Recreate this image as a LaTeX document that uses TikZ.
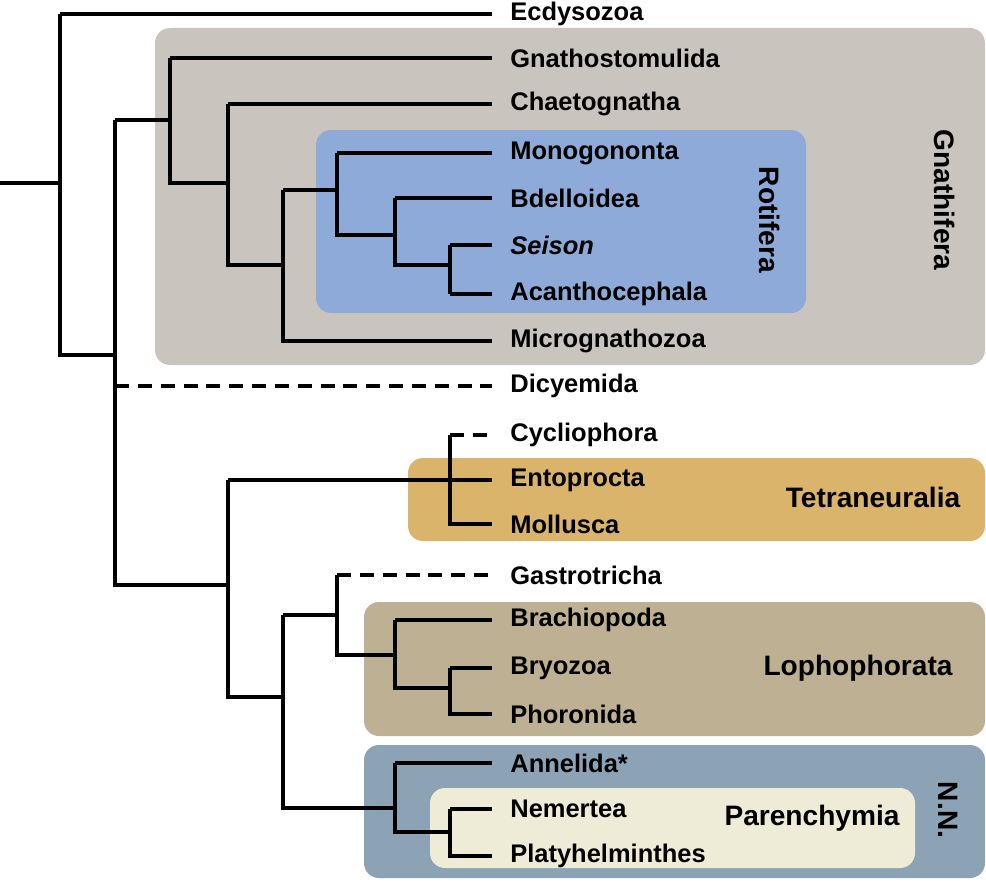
\documentclass[tikz,border=0pt]{standalone}
\usepackage{fontspec}
\setmainfont{Liberation Sans}
\begin{document}
\begin{tikzpicture}[x=0.02cm,y=-0.02cm,
 leaf/.style={anchor=west,font=\bfseries\fontsize{14.5}{16}\selectfont,inner sep=0pt},
 big/.style={font=\bfseries\fontsize{16}{18}\selectfont,inner sep=0pt},
 box/.style={rounded corners=0.3cm,draw=none},
 br/.style={line width=2pt},
 ds/.style={br,dash pattern=on 8pt off 5pt}]
\useasboundingbox (0,0) rectangle (986,882);
\definecolor{cg}{RGB}{201,197,190}
\definecolor{cr}{RGB}{141,170,216}
\definecolor{ct}{RGB}{217,180,106}
\definecolor{cl}{RGB}{190,176,146}
\definecolor{cn}{RGB}{139,163,181}
\definecolor{cp}{RGB}{238,235,214}
\fill[box,cg] (155,28) rectangle (985,365);
\fill[box,cr] (316,130) rectangle (806,313);
\fill[box,ct] (408,458) rectangle (985,541);
\fill[box,cl] (364,602) rectangle (985,736);
\fill[box,cn] (364,745) rectangle (985,878);
\fill[box,cp] (430,788) rectangle (915,868);
\node[big,rotate=-90] (gn) at (945,200) {Gnathifera};
\node[big,rotate=-90] (ro) at (770,220) {Rotifera};
\node[big] (te) at (873,497) {Tetraneuralia};
\node[big] (lo) at (858,668) {Lophophorata};
\node[big,rotate=-90] (nn) at (948,810) {N.N.};
\node[big] (pa) at (812,818) {Parenchymia};
\foreach \n/\y/\t in {l1/14/Ecdysozoa,l2/58/Gnathostomulida,l3/104/Chaetognatha,l4/153/Monogononta,l5/198/Bdelloidea,l6/245/\textit{Seison},l7/294/Acanthocephala,l8/341/Micrognathozoa,l9/386/Dicyemida,l10/435/Cycliophora,l11/480/Entoprocta,l12/524/Mollusca,l13/575/Gastrotricha,l14/620/Brachiopoda,l15/668/Bryozoa,l16/714/Phoronida,l17/763/Annelida*,l18/809/Nemertea,l19/856/Platyhelminthes}
 {\node[leaf] (\n) at (510,\y) {\t};}
\coordinate (r0) at (0,183);
\coordinate (a) at (60,183);
\coordinate (b) at (115,355);
\coordinate (g) at (170,120);
\coordinate (c) at (228,183);
\coordinate (m) at (283,265);
\coordinate (rt) at (337,190);
\coordinate (e) at (395,235);
\coordinate (s) at (450,265);
\coordinate (p) at (228,585);
\coordinate (t) at (450,480);
\coordinate (q) at (283,697);
\coordinate (u) at (337,615);
\coordinate (v) at (395,655);
\coordinate (w) at (450,688);
\coordinate (n) at (395,808);
\coordinate (z) at (450,832);
\begin{scope}[br]
\draw (r0) -- (a);
\draw (a |- l1.west) -- (a |- b) -- (b);
\draw (a |- l1.west) -- ([xshift=-10]l1.west);
\draw (b |- g) -- (b |- p) -- (p);
\draw (b |- g) -- (g);
\draw (g |- l2.west) -- (g |- c) -- (c);
\draw (g |- l2.west) -- ([xshift=-10]l2.west);
\draw (c |- l3.west) -- (c |- m) -- (m);
\draw (c |- l3.west) -- ([xshift=-10]l3.west);
\draw (m |- rt) -- (m |- l8.west) -- ([xshift=-10]l8.west);
\draw (m |- rt) -- (rt);
\draw (rt |- l4.west) -- (rt |- e) -- (e);
\draw (rt |- l4.west) -- ([xshift=-10]l4.west);
\draw (e |- l5.west) -- (e |- s) -- (s);
\draw (e |- l5.west) -- ([xshift=-10]l5.west);
\draw (s |- l6.west) -- (s |- l7.west);
\draw (s |- l6.west) -- ([xshift=-10]l6.west);
\draw (s |- l7.west) -- ([xshift=-10]l7.west);
\draw (p |- t) -- (p |- q) -- (q);
\draw (p |- t) -- (t);
\draw (t |- l10.west) -- (t |- l12.west) -- ([xshift=-10]l12.west);
\draw (t) -- ([xshift=-10]l11.west);
\draw (q |- u) -- (q |- n) -- (n);
\draw (q |- u) -- (u);
\draw (u |- l13.west) -- (u |- v) -- (v);
\draw (v |- l14.west) -- (v |- w) -- (w);
\draw (v |- l14.west) -- ([xshift=-10]l14.west);
\draw (w |- l15.west) -- (w |- l16.west) -- ([xshift=-10]l16.west);
\draw (w |- l15.west) -- ([xshift=-10]l15.west);
\draw (n |- l17.west) -- (n |- z) -- (z);
\draw (n |- l17.west) -- ([xshift=-10]l17.west);
\draw (z |- l18.west) -- (z |- l19.west) -- ([xshift=-10]l19.west);
\draw (z |- l18.west) -- ([xshift=-10]l18.west);
\end{scope}
\draw[ds] (b |- l9.west) -- ([xshift=-10]l9.west);
\draw[ds] (t |- l10.west) -- ([xshift=-10]l10.west);
\draw[ds] (u |- l13.west) -- ([xshift=-10]l13.west);
\end{tikzpicture}
\end{document}
